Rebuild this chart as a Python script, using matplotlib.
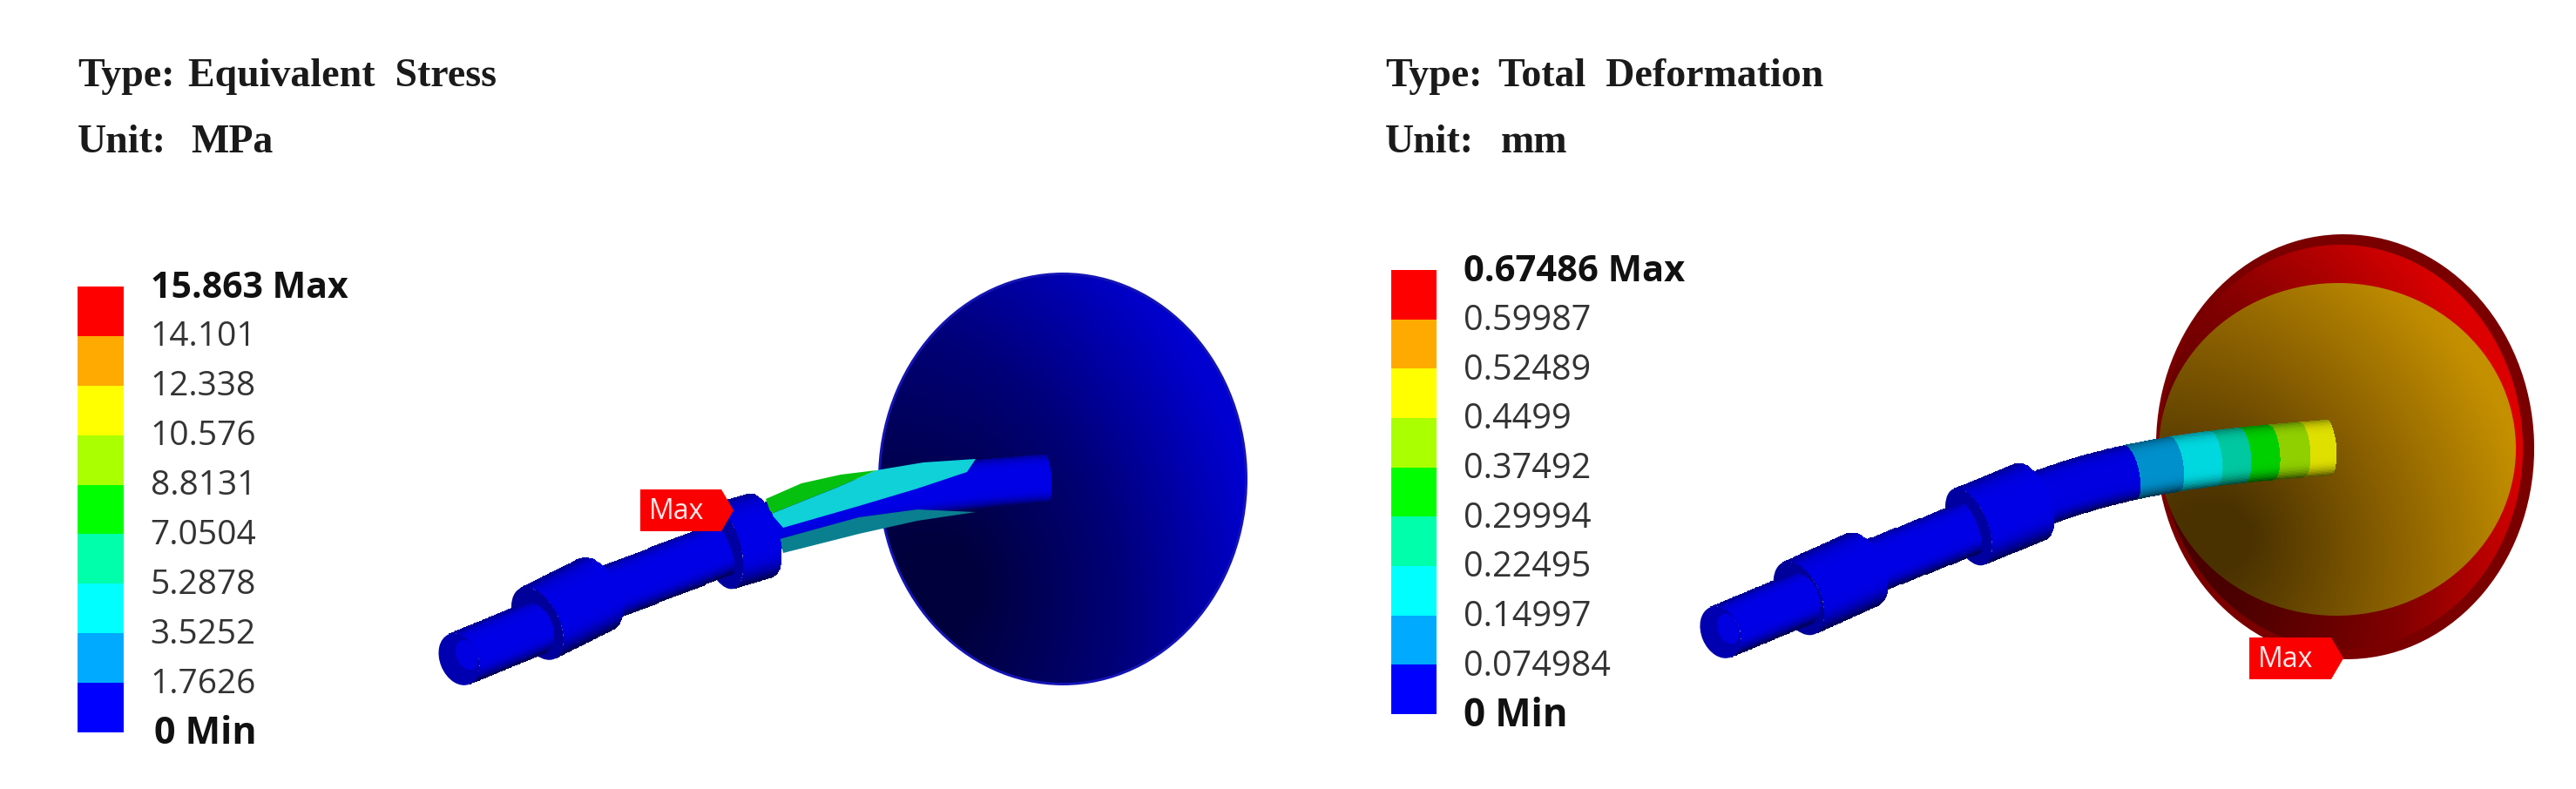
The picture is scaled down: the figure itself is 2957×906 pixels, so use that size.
import numpy as np
import matplotlib
matplotlib.use("Agg")
import matplotlib.pyplot as plt
from matplotlib.patches import Ellipse, Polygon
from matplotlib.colors import to_rgb, LinearSegmentedColormap
from matplotlib.transforms import ScaledTranslation

W, H = 2957, 906

# ---------- legend data ----------
band_colors = ["#0000ff", "#00aaff", "#00ffff", "#00ffaa", "#00ff00",
               "#aaff00", "#ffff00", "#ffaa00", "#ff0000"]
stress_labels = ["0 Min", "1.7626", "3.5252", "5.2878", "7.0504", "8.8131",
                 "10.576", "12.338", "14.101", "15.863 Max"]
deform_labels = ["0 Min", "0.074984", "0.14997", "0.22495", "0.29994", "0.37492",
                 "0.4499", "0.52489", "0.59987", "0.67486 Max"]

# ---------- left model outline (image pixels) ----------
left_end = [(527, 757), (612, 722)]
left_fl1 = [(617, 716), (685, 682)]
left_mid = [(670, 692), (830, 630)]
left_fl2 = [(828, 628), (872, 615)]
left_stem = [(855, 614), (1019, 572), (1120, 557), (1201, 550)]
left_green = [(879, 573), (920, 555), (965, 545), (1006, 540), (960, 560), (915, 578), (885, 590)]
left_cyan = [(885, 590), (915, 578), (960, 560), (1006, 540), (1060, 531), (1120, 527),
             (1110, 542), (1053, 561), (986, 581), (899, 606)]
left_teal = [(895, 619), (986, 594), (1053, 585), (1120, 588), (1053, 598), (986, 613), (899, 635)]

# ---------- right model outline (image pixels) ----------
right_end = [(1975, 726), (2066, 688)]
right_fl1 = [(2065, 687), (2138, 654)]
right_mid = [(2125, 660), (2262, 606)]
right_fl2 = [(2260, 605), (2331, 576)]
right_stem = [(2315, 584), (2478, 536), (2580, 522), (2672, 514)]
right_stem_edges = [2446, 2497, 2541, 2574, 2608, 2642]
right_stem_cols = ["#0000e0", "#0090cc", "#00d8e0", "#00c8a0", "#00d000", "#90d000", "#e0e000"]


def px_axes(fig, x0, y0, x1, y1):
    return fig.add_axes([x0 / W, 1 - y1 / H, (x1 - x0) / W, (y1 - y0) / H])


def resample(pts, n):
    p = np.array(pts, float)
    seg = np.hypot(*np.diff(p, axis=0).T)
    d = np.r_[0, np.cumsum(seg)]
    u = np.linspace(0, d[-1], n)
    if len(p) > 2:
        deg = min(3, len(p) - 1)
        return np.c_[np.polyval(np.polyfit(d, p[:, 0], deg), u),
                     np.polyval(np.polyfit(d, p[:, 1], deg), u)]
    return np.c_[np.interp(u, d, p[:, 0]), np.interp(u, d, p[:, 1])]


def tube(ax, pts, r, a, color="#0000e6", cap=None, edges=None, cols=None, z=3):
    n, m = 220 if edges is not None else 60, 48
    c = resample(pts, n)
    d = np.gradient(c, axis=0)
    d /= np.hypot(d[:, 0], d[:, 1])[:, None]
    nx, ny = -d[:, 1], d[:, 0]
    t = np.linspace(-1, 1, m)
    bulge = np.sqrt(np.clip(1 - t ** 2, 0, 1))
    X = c[:, 0, None] + r * t[None, :] * nx[:, None] + a * bulge[None, :] * d[:, 0, None]
    Y = c[:, 1, None] + r * t[None, :] * ny[:, None] + a * bulge[None, :] * d[:, 1, None]
    tc = 0.5 * (t[1:] + t[:-1])
    shade = 1.0 - 0.62 * np.abs((tc + 0.05) / 1.05) ** 5
    shade = np.where(tc > 0.55, shade * (1 - 0.25 * (tc - 0.55)), shade)
    base = np.tile(np.array(to_rgb(color)), (n - 1, 1))
    if edges is not None:
        xc = 0.5 * (c[1:, 0] + c[:-1, 0])
        idx = np.searchsorted(edges, xc)
        base = np.array([to_rgb(k) for k in cols])[idx]
    C = base[:, None, :] * shade[None, :, None]
    ax.pcolormesh(X, Y, np.clip(C, 0, 1), shading="flat", zorder=z)
    if cap:
        ang = np.degrees(np.arctan2(d[0, 1], d[0, 0]))
        ax.add_patch(Ellipse(c[0], 2 * a, 2 * r, angle=ang, fc=cap, ec="none", zorder=z + 0.1))


def shaded_disk(ax, cx, cy, rx, ry, angle, cmap, z):
    e = Ellipse((cx, cy), 2 * rx, 2 * ry, angle=angle, fc="none", ec="none", transform=ax.transData, zorder=z)
    ax.add_patch(e)
    xs, ys = np.meshgrid(np.linspace(-1.1, 1.1, 300), np.linspace(-1.1, 1.1, 300))
    dist = np.hypot(xs + 0.6, ys - 0.5)
    g = np.clip(dist / 1.7, 0, 1) * 0.6 + np.clip((xs - ys * 0.35 + 1) / 2.2, 0, 1) * 0.4
    im = ax.imshow(g, extent=(cx - 1.1 * rx, cx + 1.1 * rx, cy + 1.1 * ry, cy - 1.1 * ry),
                   cmap=cmap, vmin=0.1, vmax=0.95, aspect="auto", zorder=z, interpolation="bilinear")
    im.set_clip_path(e)


def max_tag(ax, x0, x1, y0, y1):
    notch = (x1 - x0) * 0.13
    ym = (y0 + y1) / 2
    ax.add_patch(Polygon([(x0, y0), (x1 - notch, y0), (x1, ym), (x1 - notch, y1), (x0, y1)],
                         closed=True, fc="#fb0000", ec="none", zorder=8))
    ax.text(x0 + 10, ym + 1, "Max", color="#ffe8e8", fontsize=23, family="Open Sans",
            va="center", ha="left", zorder=9)


def legend(fig, x0, x1, y0, y1, labels, fs, bold_fs, min_shift=0):
    ax = px_axes(fig, x0, y0, x1, y1)
    pos = np.arange(len(band_colors))
    ax.barh(pos, np.ones_like(pos), height=1.0, left=0, align="edge", color=band_colors)
    ax.set_xlim(0, 1)
    ax.set_ylim(0, len(band_colors))
    ax.yaxis.tick_right()
    ax.set_yticks(np.arange(len(labels)))
    ax.set_yticklabels(labels, family="Open Sans", fontsize=fs, color="#333333")
    ax.set_xticks([])
    ax.tick_params(axis="y", length=0, pad=22)
    tls = ax.get_yticklabels()
    for lab in (tls[0], tls[-1]):
        lab.set_fontweight("bold")
        lab.set_color("#111111")
        lab.set_fontsize(bold_fs)
    tls[0].set_fontsize(bold_fs + 1.5)
    for i, lab in enumerate(tls):
        dx = min_shift if i == 0 else 0
        lab.set_transform(lab.get_transform() + ScaledTranslation(dx / 100, 3 / 100, fig.dpi_scale_trans))
    for s in ax.spines.values():
        s.set_visible(False)


fig = plt.figure(figsize=(W / 100, H / 100), dpi=100, facecolor="white")
ax = fig.add_axes([0, 0, 1, 1])
ax.axis("off")

# ---------- left model ----------
blue_cm = LinearSegmentedColormap.from_list("b", ["#00003c", "#000078", "#0000d0"])
ax.add_patch(Ellipse((1220, 550), 424, 474, fc="#1414b4", ec="none", zorder=1))
shaded_disk(ax, 1220, 550, 209, 234, 0, blue_cm, 1.5)
tube(ax, left_stem, 28, 6, z=3)
for poly, col in ((left_teal, "#0a7f90"), (left_cyan, "#10d0d8"), (left_green, "#06c010")):
    ax.add_patch(Polygon(poly, closed=True, fc=col, ec="none", zorder=3.5))
tube(ax, left_fl2, 50, 22, cap="#0000a0", z=4)
tube(ax, left_mid, 31, 8, z=4.5)
tube(ax, left_fl1, 45, 25, cap="#00009a", z=5)
tube(ax, left_end, 31, 22, cap="#0000b0", z=5.5)
ax.add_patch(Ellipse((536, 752), 24, 36, angle=-22, fc="#0000e0", ec="none", zorder=6))
max_tag(ax, 735, 842, 562, 610)

# ---------- right model ----------
red_cm = LinearSegmentedColormap.from_list("r", ["#4a0000", "#800000", "#dc0000"])
gold_cm = LinearSegmentedColormap.from_list("g", ["#4a3200", "#8a6000", "#c49000"])
ax.add_patch(Ellipse((2692, 513), 434, 488, angle=-2, fc="#7a0000", ec="none", zorder=1))
shaded_disk(ax, 2688, 513, 208, 232, -2, red_cm, 1.5)
shaded_disk(ax, 2683, 516, 205, 191, -2, gold_cm, 2)
tube(ax, right_stem, 32, 10, edges=right_stem_edges, cols=right_stem_cols, z=3)
tube(ax, right_fl2, 47, 22, cap="#0000a0", z=4)
tube(ax, right_mid, 31, 8, z=4.5)
tube(ax, right_fl1, 45, 25, cap="#00009a", z=5)
tube(ax, right_end, 31, 22, cap="#0000b0", z=5.5)
ax.add_patch(Ellipse((1984, 722), 24, 36, angle=-22, fc="#0000e0", ec="none", zorder=6))
max_tag(ax, 2582, 2690, 732, 780)

ax.set_xlim(0, W)
ax.set_ylim(H, 0)


def header(x_lab, x_val, y, lab, val, fs=33):
    ax.text(x_lab, y, lab, family="Liberation Serif", fontweight="bold", fontsize=fs,
            color="#1a1a1a", va="center", ha="left", zorder=10)
    ax.text(x_val, y, val, family="Liberation Serif", fontweight="bold", fontsize=fs,
            color="#1a1a1a", va="center", ha="left", zorder=10)


header(89, 216, 88, "Type:", "Equivalent  Stress")
header(89, 219, 164, "Unit:", "MPa")
header(1590, 1720, 88, "Type:", "Total  Deformation")
header(1590, 1723, 164, "Unit:", "mm")

legend(fig, 89, 142, 329, 841, stress_labels, 28, 29.5, min_shift=4)
legend(fig, 1597, 1649, 310, 820, deform_labels, 28.5, 30)

fig.savefig("out.png", dpi=100, facecolor="white")
